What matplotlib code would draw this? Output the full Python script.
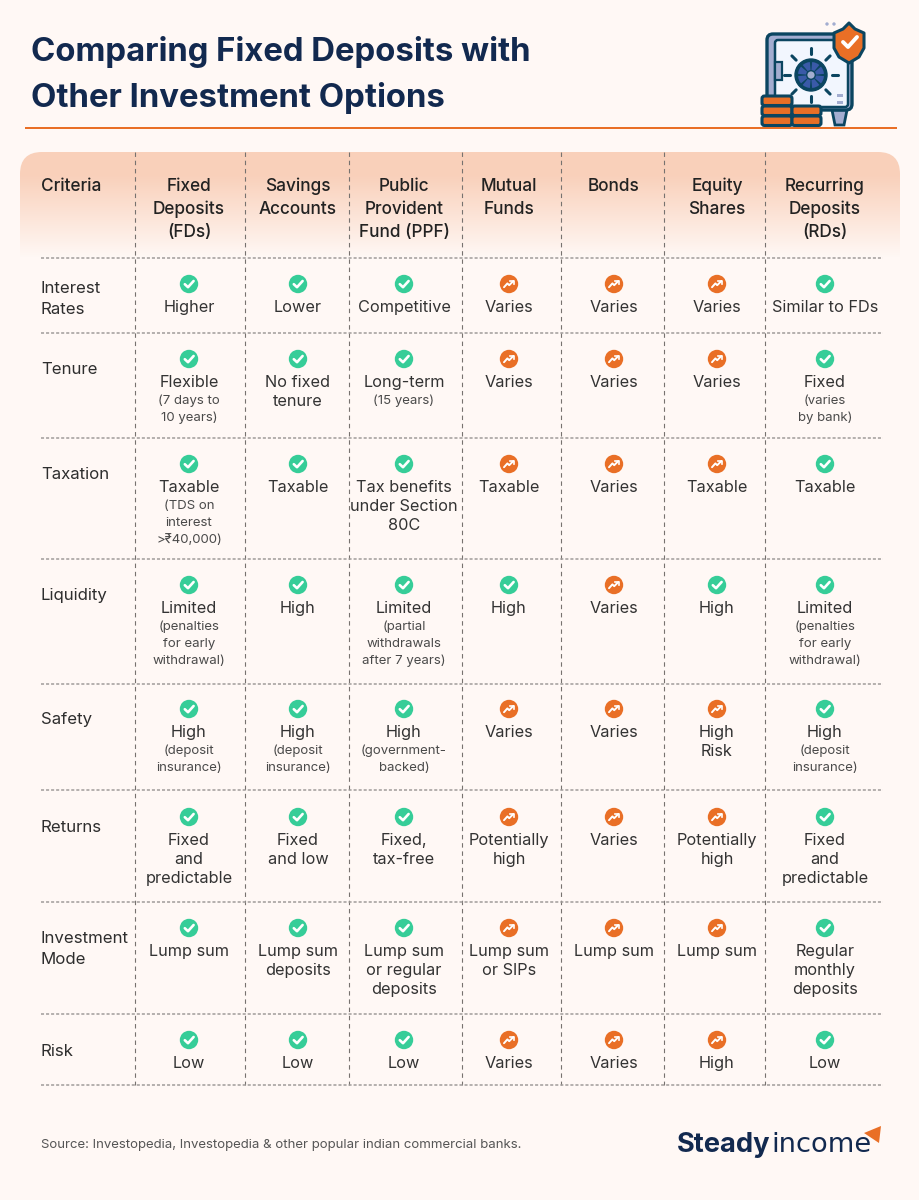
import matplotlib
matplotlib.use("Agg")
import matplotlib.pyplot as plt
import numpy as np
from matplotlib.patches import Circle, FancyBboxPatch, Polygon, Rectangle, Wedge
from matplotlib.colors import LinearSegmentedColormap

TITLE = ["Comparing Fixed Deposits with", "Other Investment Options"]
SOURCE = "Source: Investopedia, Investopedia & other popular indian commercial banks."
COLUMNS = ["Criteria", "Fixed\nDeposits\n(FDs)", "Savings\nAccounts", "Public\nProvident\nFund (PPF)",
           "Mutual\nFunds", "Bonds", "Equity\nShares", "Recurring\nDeposits\n(RDs)"]
CRITERIA = ["Interest\nRates", "Tenure", "Taxation", "Liquidity", "Safety", "Returns", "Investment\nMode", "Risk"]
# 1 = green tick, 0 = orange trend icon
STATUS = [
    [1, 1, 1, 0, 0, 0, 1],
    [1, 1, 1, 0, 0, 0, 1],
    [1, 1, 1, 0, 0, 0, 1],
    [1, 1, 1, 1, 0, 1, 1],
    [1, 1, 1, 0, 0, 0, 1],
    [1, 1, 1, 0, 0, 0, 1],
    [1, 1, 1, 0, 0, 0, 1],
    [1, 1, 1, 0, 0, 0, 1],
]
MAIN = [
    ["Higher", "Lower", "Competitive", "Varies", "Varies", "Varies", "Similar to FDs"],
    ["Flexible", "No fixed\ntenure", "Long-term", "Varies", "Varies", "Varies", "Fixed"],
    ["Taxable", "Taxable", "Tax benefits\nunder Section\n80C", "Taxable", "Varies", "Taxable", "Taxable"],
    ["Limited", "High", "Limited", "High", "Varies", "High", "Limited"],
    ["High", "High", "High", "Varies", "Varies", "High\nRisk", "High"],
    ["Fixed\nand\npredictable", "Fixed\nand low", "Fixed,\ntax-free", "Potentially\nhigh", "Varies", "Potentially\nhigh", "Fixed\nand\npredictable"],
    ["Lump sum", "Lump sum\ndeposits", "Lump sum\nor regular\ndeposits", "Lump sum\nor SIPs", "Lump sum", "Lump sum", "Regular\nmonthly\ndeposits"],
    ["Low", "Low", "Low", "Varies", "Varies", "High", "Low"],
]
NOTES = [
    ["", "", "", "", "", "", ""],
    ["(7 days to\n10 years)", "", "(15 years)", "", "", "", "(varies\nby bank)"],
    ["(TDS on\ninterest\n>₹40,000)", "", "", "", "", "", ""],
    ["(penalties\nfor early\nwithdrawal)", "", "(partial\nwithdrawals\nafter 7 years)", "", "", "", "(penalties\nfor early\nwithdrawal)"],
    ["(deposit\ninsurance)", "(deposit\ninsurance)", "(government-\nbacked)", "", "", "", "(deposit\ninsurance)"],
    ["", "", "", "", "", "", ""],
    ["", "", "", "", "", "", ""],
    ["", "", "", "", "", "", ""],
]

# layout in reference pixels
COL_X = [189, 298, 404, 509, 614, 717, 825]
VLINES = [135, 245, 349, 462, 561, 664, 765]
ROW_TOP = [258, 333, 438, 559, 684, 790, 902, 1014]
ROW_BOTTOM = 1085
ICON_Y = [284, 359, 464, 585, 709, 817, 928, 1040]
CRIT_Y = [287, 368, 473, 594, 718, 826, 937, 1050]

NAVY = "#12294f"; ORANGE = "#e96f26"; GREEN = "#36cd98"; INK = "#333333"; DARK = "#0b4560"
BG = "#fff8f5"; DASH = "#a09c9a"; SLATE = "#a3add0"
FONT = ["Inter", "DejaVu Sans"]
px = 0.72  # font points per reference pixel at dpi 100

fig = plt.figure(figsize=(9.2, 12), dpi=100, facecolor=BG)
ax = fig.add_axes([0, 0, 1, 1])
ax.set_xlim(0, 920); ax.set_ylim(1200, 0); ax.axis("off")

def T(x, y, s, size, color=INK, ha="center", weight="normal", family=FONT):
    # y is the centre of the capital letters
    return ax.text(x, y + 0.36 * size, s, fontsize=size * px, color=color, ha=ha, va="baseline",
                   weight=weight, family=family)

def lines(x, y, s, step, size, **kw):
    parts = s.split("\n")
    for i, p in enumerate(parts):
        T(x, y + i * step, p, size, **kw)
    return y + (len(parts) - 1) * step

# title
T(31, 49.5, TITLE[0], 32.9, color=NAVY, ha="left", weight="bold")
T(31, 95.5, TITLE[1], 32.9, color=NAVY, ha="left", weight="bold")
ax.add_patch(Rectangle((25, 127), 872, 2, fc=ORANGE, ec="none", zorder=7))

# header gradient
cmap = LinearSegmentedColormap.from_list("h", ["#f9d0ba", BG])
grad = np.concatenate([np.full(22, 0.0), np.linspace(0, 1, 84)])[:, None]
im = ax.imshow(grad, extent=(20, 900, 258, 152), cmap=cmap, vmin=0, vmax=1.0, aspect="auto", zorder=0)
clip = FancyBboxPatch((20, 152), 880, 130, boxstyle="round,pad=0,rounding_size=22", transform=ax.transData,
                      fc="none", ec="none")
ax.add_patch(clip)
im.set_clip_path(clip)
ax.set_xlim(0, 920); ax.set_ylim(1200, 0)

# grid
for x in VLINES:
    ax.plot([x, x], [152, ROW_BOTTOM], color="#77726f", lw=0.8, dashes=(4, 3.4), zorder=1)
for y in ROW_TOP + [ROW_BOTTOM]:
    ax.plot([41, 883], [y, y], color=DASH, lw=1.1, dashes=(2, 1.3), zorder=1)

# header text
HW = "medium"
T(41, 185, COLUMNS[0], 17.2, color="#222222", ha="left", weight=HW)
for x, c in zip(COL_X, COLUMNS[1:]):
    lines(x, 185, c, 23, 17.2, color="#222222", weight=HW)

def icon(cx, cy, good):
    ax.add_patch(Circle((cx, cy), 9.2, fc=GREEN if good else ORANGE, ec="none", zorder=3))
    if good:
        ax.plot([cx - 4.2, cx - 1.0, cx + 4.6], [cy + 0.2, cy + 3.2, cy - 3.0], color="white", lw=1.9,
                solid_capstyle="round", solid_joinstyle="round", zorder=4)
    else:
        ax.plot([cx - 5, cx - 1.6, cx + 0.2, cx + 4.4], [cy + 3.2, cy - 0.6, cy + 1.2, cy - 3.0], color="white",
                lw=1.4, solid_capstyle="round", zorder=4)
        ax.plot([cx + 1.4, cx + 4.6, cx + 4.6], [cy - 3.2, cy - 3.2, cy + 0.0], color="white", lw=1.2, zorder=4)

# body
for r, crit in enumerate(CRITERIA):
    lines(41, CRIT_Y[r], crit, 21, 16.8, ha="left", color="#2e2e2e")
    for c, x in enumerate(COL_X):
        icon(x, ICON_Y[r], STATUS[r][c])
        y0 = ICON_Y[r] + 22.5
        last = lines(x, y0, MAIN[r][c], 19, 16.3)
        if NOTES[r][c]:
            lines(x, last + 17.6, NOTES[r][c], 17.3, 13.2, color="#4a4a4a")

# source + logo
T(41, 1143, SOURCE, 13.2, color="#555555", ha="left")
t1 = T(677, 1142, "Steady", 27.3, color=NAVY, ha="left", weight="bold")
fig.canvas.draw()
bb = t1.get_window_extent().transformed(ax.transData.inverted())
T(bb.x1 + 1, 1142, "income", 27.3, color=NAVY, ha="left", family=["DejaVu Sans"])
ax.add_patch(Polygon([(864, 1133), (881, 1126), (879, 1143)], fc=ORANGE, ec="none", zorder=4))

# safe illustration
ax.add_patch(FancyBboxPatch((767, 34), 85, 76, boxstyle="round,pad=0,rounding_size=6", fc=SLATE, ec=DARK, lw=2.4, zorder=2))
ax.add_patch(FancyBboxPatch((775, 40), 73, 67, boxstyle="round,pad=0,rounding_size=3", fc="#f2f6fe", ec=DARK, lw=1.8, zorder=2))
ax.add_patch(Rectangle((775, 62), 7, 18, fc=SLATE, ec=DARK, lw=1.6, zorder=3))
ax.add_patch(Polygon([(832, 110), (847, 110), (844, 125), (835, 125)], fc=SLATE, ec=DARK, lw=2, zorder=1))
cx, cy = 811, 75
ax.add_patch(Circle((cx, cy), 16, fc=DARK, ec=DARK, lw=1, zorder=3))
for a in np.arange(0, 360, 45):
    ax.add_patch(Wedge((cx, cy), 13, a + 5, a + 40, width=8, fc="#3a5aa8", ec="none", zorder=4))
ax.add_patch(Circle((cx, cy), 3.6, fc=SLATE, ec="none", zorder=5))
for a in np.arange(0, 360, 45):
    ca, sa = np.cos(np.radians(a)), np.sin(np.radians(a))
    ax.plot([cx + 21 * ca, cx + 27 * ca], [cy + 21 * sa, cy + 27 * sa], color=DARK, lw=2.2,
            solid_capstyle="round", zorder=3)
ax.add_patch(Polygon([(849, 23), (855, 29), (864, 33), (864, 48), (859, 57), (849, 63), (839, 57), (834, 48), (834, 33), (843, 29)],
                     fc=ORANGE, ec=DARK, lw=2.2, joinstyle="round", zorder=5))
ax.plot([843, 848, 857], [42, 47, 37], color="white", lw=2.8, solid_capstyle="round", solid_joinstyle="round", zorder=6)
ax.add_patch(Circle((827, 24), 1.7, fc=SLATE, ec="none"))
ax.add_patch(Circle((834, 24), 1.7, fc=SLATE, ec="none"))
ax.add_patch(Rectangle((837, 94), 6, 2.5, fc=SLATE, ec="none", zorder=3))
ax.add_patch(Rectangle((837, 101), 6, 2.5, fc=SLATE, ec="none", zorder=3))
for (x, y, w) in [(762, 96, 30), (762, 106, 30), (762, 116, 30), (792, 106, 29), (792, 116, 29)]:
    ax.add_patch(FancyBboxPatch((x, y), w, 9.5, boxstyle="round,pad=0,rounding_size=2.5", fc=ORANGE, ec=DARK, lw=2.2, zorder=6))

fig.savefig("out.png", dpi=100, facecolor=BG)
